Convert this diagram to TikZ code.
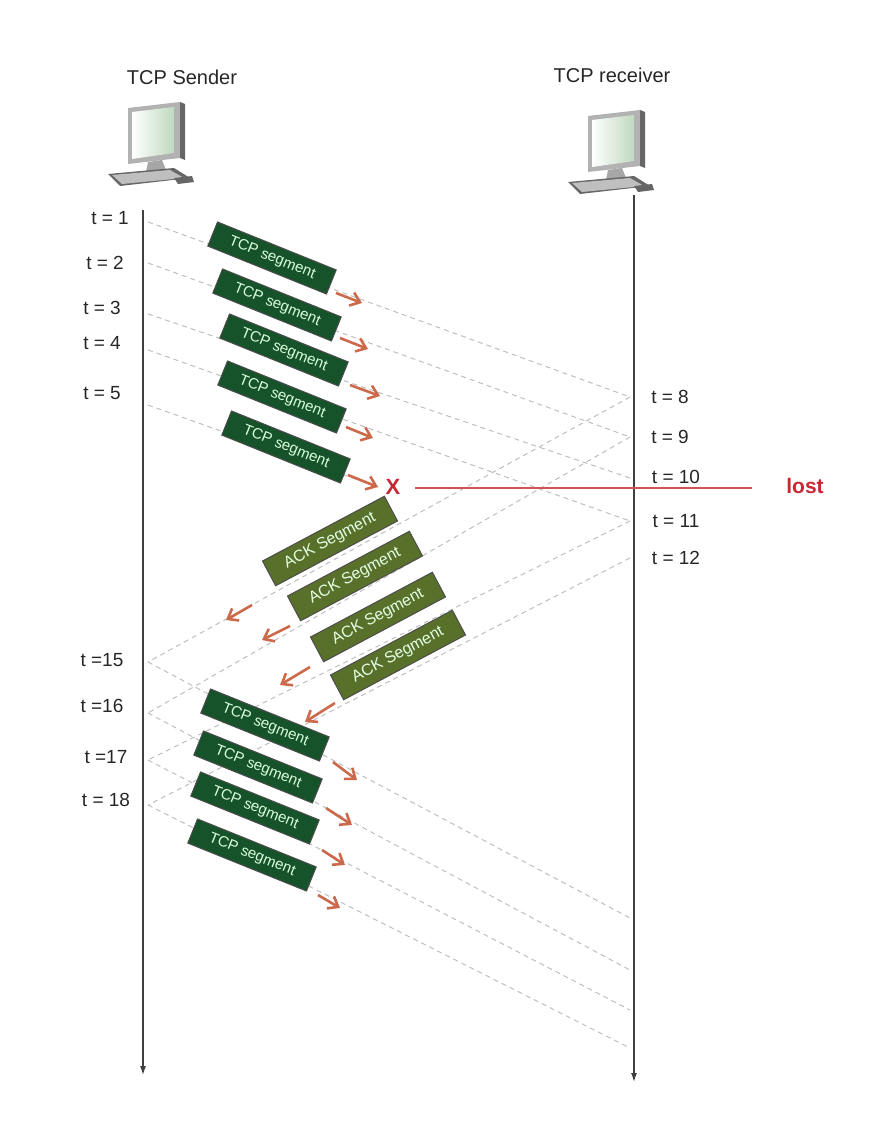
\documentclass[tikz,border=0pt]{standalone}
\usepackage{fontspec}
\setmainfont{Liberation Sans}
\usetikzlibrary{arrows.meta}
\definecolor{tcpg}{RGB}{22,82,42}
\definecolor{ackg}{RGB}{88,112,42}
\definecolor{arr}{RGB}{205,105,75}
\definecolor{lostred}{RGB}{200,40,50}
\definecolor{dash}{RGB}{190,190,190}
\begin{document}
\begin{tikzpicture}[x=1pt,y=-1pt,
 lbl/.style={font=\fontsize{19}{20}\selectfont,text=black!85},
 tcpbox/.style={fill=tcpg,draw=black!70,line width=1pt,minimum width=128pt,minimum height=26pt,inner sep=0pt,text=green!15!white,font=\fontsize{15}{15}\selectfont,rotate=-22},
 ackbox/.style={fill=ackg,draw=black!70,line width=1pt,minimum width=138pt,minimum height=28pt,inner sep=0pt,text=green!10!white,font=\fontsize{16}{16}\selectfont,rotate=28},
 dl/.style={draw=dash,line width=1pt,dash pattern=on 5pt off 4pt},
 ra/.style={draw=arr,line width=2.6pt,-{Straight Barb[length=9pt,width=14pt,line width=2.6pt]}},
 tl/.style={draw=black!75,line width=1.2pt,-{Latex[length=9pt,width=6pt]}}
]
\useasboundingbox (0,0) rectangle (872,1126);
% titles
\node[lbl,font=\fontsize{20}{21}\selectfont] (ts) at (182,77) {TCP Sender};
\node[lbl,font=\fontsize{20}{21}\selectfont] (tr) at (612,75) {TCP receiver};
% computers
\foreach \cx/\cy/\nm in {150/150/pcs,610/158/pcr}{
 \begin{scope}[shift={(\cx,\cy)}]
 \fill[gray!60] (-22,-42) -- (30,-48) -- (30,8) -- (-22,14) -- cycle;
 \shade[left color=white,right color=green!25!gray!40] (-18,-38) -- (24,-43) -- (24,3) -- (-18,9) -- cycle;
 \fill[gray!80!black] (30,-48) -- (35,-46) -- (35,10) -- (30,8) -- cycle;
 \fill[gray!70] (-2,12) -- (12,10) -- (16,20) -- (-4,22) -- cycle;
 \fill[gray!80!black] (-42,24) -- (24,18) -- (40,28) -- (-30,36) -- cycle;
 \fill[gray!50] (-38,25) -- (20,20) -- (34,28) -- (-28,34) -- cycle;
 \fill[gray!80!black] (24,28) -- (42,26) -- (44,32) -- (28,34) -- cycle;
 \end{scope}}
% timelines
\coordinate (s0) at (143,210); \coordinate (s1) at (143,1075);
\coordinate (r0) at (634,195); \coordinate (r1) at (634,1082);
\draw[tl] (s0) -- (s1);
\draw[tl] (r0) -- (r1);
\foreach \n/\y in {a1/222,a2/263,a3/314,a4/350,a5/405,b15/662,b16/713,b17/760,b18/805}{\coordinate (\n) at (148,\y);}
\foreach \n/\y in {r8/397,r9/437,r10/478,r11/521,r12/558,q1/918,q2/970,q3/1010,q4/1048}{\coordinate (\n) at (630,\y);}
\coordinate (x5) at (378,487);
\draw[dl] (a1) -- (r8); \draw[dl] (a2) -- (r9); \draw[dl] (a3) -- (r10); \draw[dl] (a4) -- (r11); \draw[dl] (a5) -- (x5);
\draw[dl] (r8) -- (b15); \draw[dl] (r9) -- (b16); \draw[dl] (r11) -- (b17); \draw[dl] (r12) -- (b18);
\draw[dl] (b15) -- (q1); \draw[dl] (b16) -- (q2); \draw[dl] (b17) -- (q3); \draw[dl] (b18) -- (q4);
\foreach \n/\x/\y/\t in {l1/110/218/{t = 1},l2/105/263/{t = 2},l3/102/308/{t = 3},l4/102/343/{t = 4},l5/102/393/{t = 5},
 l15/102/660/{t =15},l16/102/706/{t =16},l17/106/757/{t =17},l18/106/800/{t = 18},
 l8/670/397/{t = 8},l9/670/437/{t = 9},l10/676/477/{t = 10},l11/676/521/{t = 11},l12/676/558/{t = 12}}
 {\node[lbl] (\n) at (\x,\y) {\t};}
\node[text=lostred,font=\bfseries\fontsize{22}{22}\selectfont] (X) at (393,487) {X};
\node[text=lostred,font=\bfseries\fontsize{21}{22}\selectfont] (lost) at (805,486) {lost};
\coordinate (lx) at (415,488); \coordinate (ly) at (752,488);
\draw[lostred!80,line width=1.6pt] (lx) -- (ly);
\foreach \n/\x/\y in {t1/272/258,t2/277/305,t3/284/350,t4/282/397,t5/286/447,u1/265/725,u2/258/767,u3/255/808,u4/252/855}
 {\node[tcpbox] (\n) at (\x,\y) {TCP segment};}
\foreach \n/\x/\y in {k1/330/541,k2/355/576,k3/378/617,k4/398/655}
 {\node[ackbox] (\n) at (\x,\y) {ACK Segment};}
\foreach \n/\ax/\ay/\bx/\by in {e1/336/293/362/303,e2/340/338/368/349,e3/350/385/380/396,e4/346/427/373/438,e5/348/475/378/487,
 f1/252/605/226/620,f2/290/626/262/640,f3/310/667/280/685,f4/335/703/305/722,
 g1/333/762/357/780,g2/326/808/352/825,g3/322/850/345/865,g4/318/895/340/908}
 {\coordinate (\n a) at (\ax,\ay); \coordinate (\n b) at (\bx,\by); \draw[ra] (\n a) -- (\n b);}
\end{tikzpicture}
\end{document}
